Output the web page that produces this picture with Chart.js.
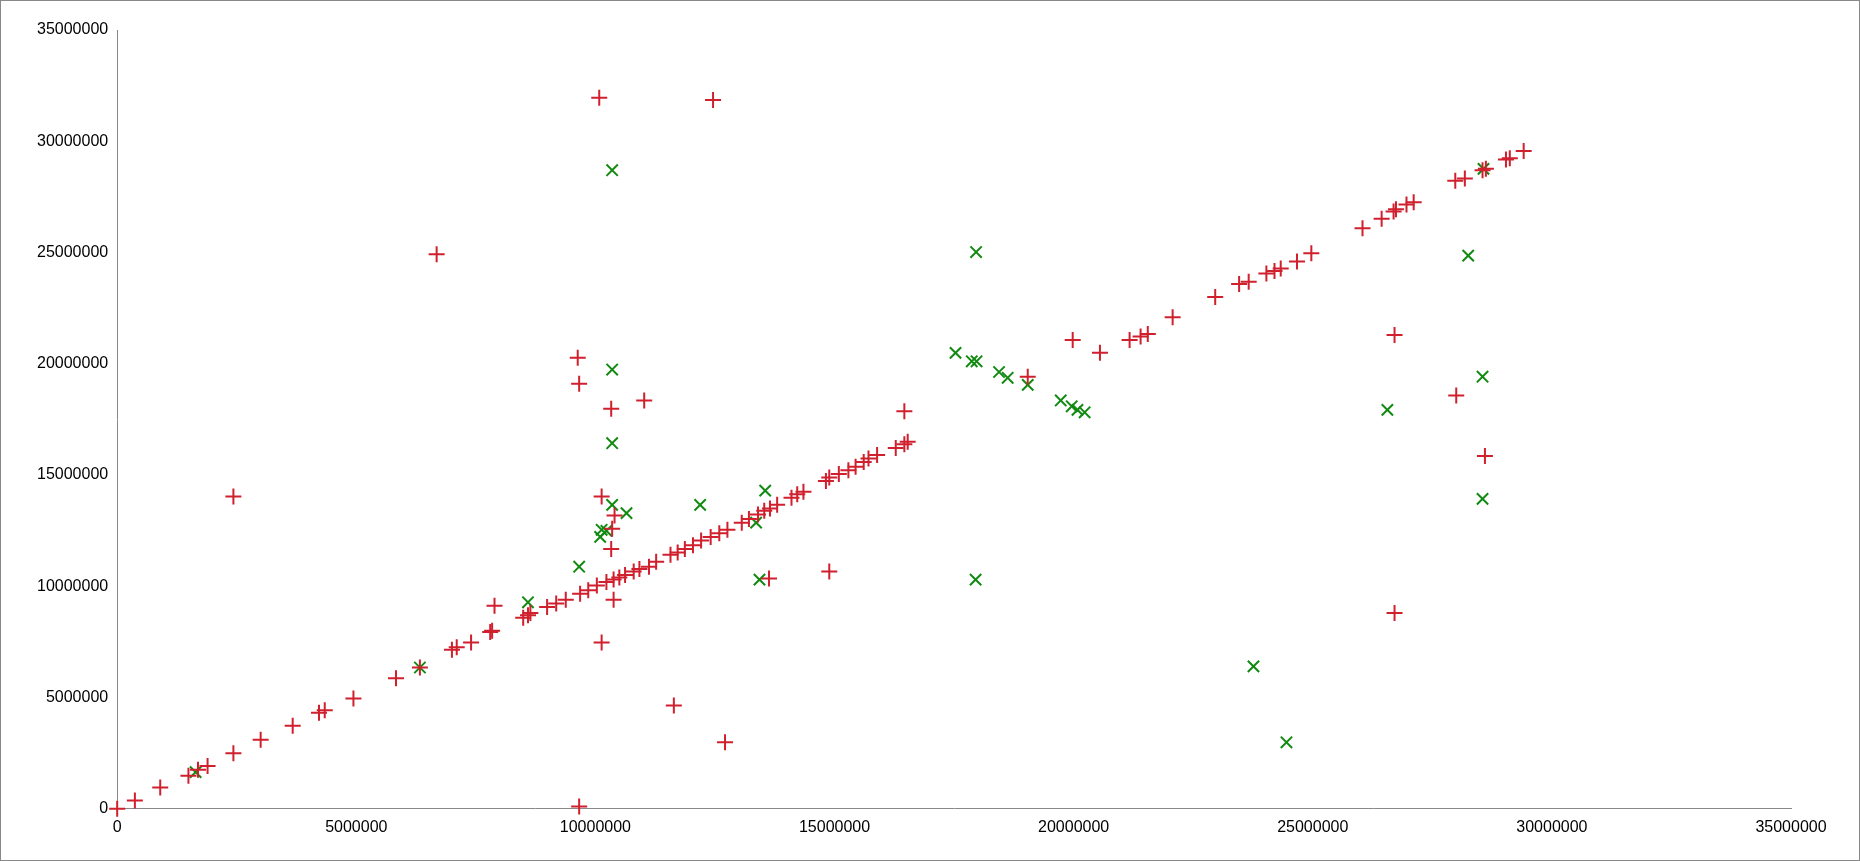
<!DOCTYPE html><html><head><style>html,body{margin:0;background:#fff}#w{position:absolute;left:0;top:0;width:1858px;height:859px;border:1px solid #888}</style>
<script src="https://cdn.jsdelivr.net/npm/chart.js@4"></script></head><body><div id="w"><canvas id="c"></canvas></div>
<script>
// values in millions
const redX=[0,0.37,0.9,1.49,1.69,1.89,2.43,3.0,3.67,4.22,4.34,4.94,5.83,6.33,7.0,7.1,7.4,7.8,7.84,7.89,8.49,8.59,8.64,8.99,9.18,9.38,9.68,9.85,10.03,10.23,10.38,10.5,10.62,10.8,10.92,11.12,11.27,11.57,11.72,11.87,12.04,12.21,12.41,12.59,12.76,13.06,13.21,13.4,13.53,13.65,13.8,14.1,14.22,14.35,14.82,14.89,15.09,15.29,15.44,15.61,15.71,15.89,16.28,16.46,16.53,16.46,6.68,2.43,10.08,12.46,9.63,9.66,10.33,11.02,10.13,10.35,10.33,10.38,10.13,11.64,12.71,9.66,13.63,14.89,19.04,19.98,20.55,21.17,21.4,21.55,22.07,22.96,23.46,23.66,24.03,24.2,24.33,24.67,24.97,26.04,26.44,26.69,26.74,26.96,27.11,27.98,28.18,28.55,28.62,29.04,29.12,29.41,26.71,28.0,28.6,26.71,10.4];
const redY=[0,0.37,0.96,1.49,1.76,1.92,2.5,3.1,3.73,4.32,4.43,4.96,5.87,6.35,7.15,7.26,7.47,7.95,8.0,9.12,8.59,8.7,8.8,9.07,9.23,9.39,9.66,9.82,10.03,10.19,10.3,10.4,10.51,10.67,10.78,10.88,11.1,11.42,11.52,11.68,11.84,12.06,12.22,12.38,12.54,12.86,13.02,13.23,13.39,13.5,13.66,13.98,14.14,14.25,14.73,14.89,15.05,15.21,15.37,15.58,15.74,15.9,16.22,16.38,16.49,17.87,24.92,14.03,31.96,31.85,20.27,19.1,17.98,18.35,14.03,12.59,11.68,9.39,7.47,4.64,2.99,0.1,10.35,10.67,19.42,21.07,20.49,21.07,21.23,21.34,22.09,23.0,23.58,23.69,24.06,24.17,24.28,24.6,24.97,26.09,26.52,26.84,26.94,27.16,27.26,28.22,28.33,28.7,28.76,29.18,29.24,29.56,21.29,18.57,15.85,8.8,13.18];
const greenX=[1.64,6.33,8.59,9.66,10.1,10.13,10.23,10.35,10.65,10.35,10.35,10.35,12.19,13.36,13.43,13.55,17.53,17.87,17.97,17.96,17.95,18.44,18.62,19.04,19.73,19.96,20.08,20.23,23.76,24.45,26.56,28.25,28.55,28.55,28.57];
const greenY=[1.65,6.35,9.28,10.88,12.22,12.54,12.49,13.66,13.29,16.43,19.74,28.7,13.66,12.86,10.3,14.3,20.49,20.11,20.11,25.02,10.3,19.63,19.37,19.05,18.35,18.09,17.93,17.82,6.4,2.99,17.93,24.86,19.42,13.93,28.76];
const ticks=[0,5000000,10000000,15000000,20000000,25000000,30000000,35000000];
const pts=(xs,ys)=>xs.map((x,i)=>({x:x*1e6,y:ys[i]*1e6}));
const font={family:'"Liberation Sans", Arial',size:16};
const axis=()=>({min:0,max:35000000,grid:{display:false,drawTicks:true,tickLength:6,tickColor:'#888'},border:{color:'#888'},
 afterBuildTicks:a=>{a.ticks=ticks.map(v=>({value:v}))},ticks:{color:'#000',font,callback:v=>String(v)}});
new Chart(document.getElementById('c'),{type:'scatter',
data:{datasets:[
{data:pts(redX,redY),clip:false,pointStyle:'cross',pointRadius:8,borderColor:'#d0202e',borderWidth:2,backgroundColor:'#d0202e'},
{data:pts(greenX,greenY),clip:false,pointStyle:'crossRot',pointRadius:8,borderColor:'#128a12',borderWidth:2,backgroundColor:'#128a12'}]},
options:{responsive:true,maintainAspectRatio:false,animation:false,layout:{padding:{left:33,right:68,top:29,bottom:20}},
plugins:{legend:{display:false},tooltip:{enabled:false}},scales:{x:axis(),y:axis()}}});
</script></body></html>
